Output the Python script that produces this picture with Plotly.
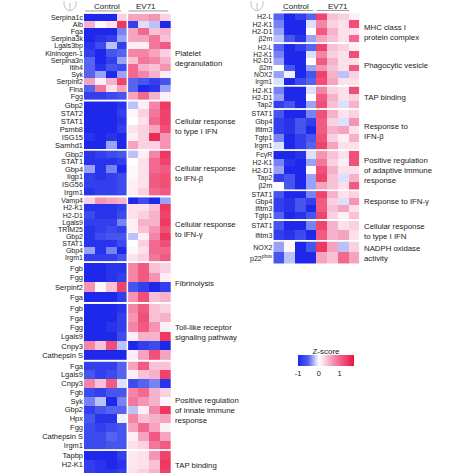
import plotly.graph_objects as go

W = H = 474

# ---------------- data: left panel ----------------
samples = ["C1", "C2", "C3", "C4", "E1", "E2", "E3", "E4"]

platelet_genes = ["Serpina1c", "Alb", "Fga", "Serpina3k", "Lgals3bp", "Kininogen-1",
                  "Serpina3n", "Itih4", "Syk", "Serpinf2", "Flna", "Fgg"]
platelet_z = [
    [-1.0, -1.0, -1.0, 0.3, 0.6, 0.6, 0.7, 0.3],
    [0.5, 0.05, 0.2, 1.4, -0.8, -0.1, -0.2, -1.1],
    [-1.0, -1.0, -1.0, -0.4, 0.6, 1.0, 0.4, 0.5],
    [-1.0, -0.9, -0.8, -0.3, 0.6, 0.6, 0.9, 0.4],
    [-0.9, -0.7, -0.2, -0.8, 0.1, 0.1, 0.9, 1.1],
    [-0.8, -1.0, -0.6, -0.5, 0.8, 0.8, 0.6, 0.3],
    [-0.5, -1.0, -0.8, -0.3, 0.4, 0.9, 0.8, 0.5],
    [-0.5, -0.9, -0.6, -0.7, 1.0, 0.5, 0.4, 0.7],
    [-0.5, -0.3, -1.1, -0.3, 1.0, 0.8, 0.5, 0.1],
    [0.6, 0.1, 0.5, 1.3, -0.5, -0.6, -0.8, -0.6],
    [-0.5, 0.9, 0.2, 0.6, -0.5, -1.0, -0.9, -0.3],
    [-0.8, -0.8, -0.7, -0.6, 0.6, 1.0, 0.5, 0.1],
]

typeI_genes = ["Gbp2", "STAT2", "STAT1", "Psmb8", "ISG15", "Samhd1"]
typeI_z = [
    [-1.0, -1.0, -1.0, -0.9, -0.2, 0.1, 0.8, 1.4],
    [-1.0, -1.0, -1.0, -0.8, 0.05, 0.3, 0.9, 1.3],
    [-1.0, -1.0, -1.0, -0.9, 0.0, 0.2, 1.0, 1.3],
    [-1.0, -1.0, -1.0, -0.8, 0.2, 0.3, 0.6, 1.2],
    [-0.9, -1.0, -0.9, -1.0, 0.1, 0.3, 1.5, 0.7],
    [-1.0, -1.0, -0.3, -1.0, 0.6, 0.3, 0.3, 0.7],
]

ifnb_genes = ["Gbp2", "STAT1", "Gbp4", "Iigp1", "ISG56", "Irgm1"]
ifnb_z = [
    [-0.9, -0.8, -0.7, -0.6, -0.2, 0.1, 0.8, 1.4],
    [-0.9, -0.9, -0.9, -0.8, 0.0, 0.2, 1.0, 1.3],
    [-0.3, -0.9, -0.4, -1.1, 0.05, 0.2, 1.0, 1.1],
    [-0.8, -0.9, -0.8, -0.7, 0.05, 0.2, 1.1, 1.2],
    [-0.8, -0.8, -0.8, -0.7, 0.1, 0.2, 1.1, 1.2],
    [-0.9, -0.8, -0.8, -0.7, 0.1, 0.3, 1.0, 1.1],
]

ifng_genes = ["Vamp4", "H2-K1", "H2-D1", "Lgals9", "TRIM25", "Gbp2", "STAT1", "Gbp4", "Irgm1"]
ifng_z = [
    [0.3, 0.7, 0.6, 0.5, -1.1, -0.7, -1.1, -0.3],
    [-0.9, -0.9, -0.9, -0.8, 0.2, 0.2, 0.4, 1.4],
    [-0.7, -0.9, -0.9, -0.7, 0.2, 0.3, 0.5, 1.3],
    [-0.8, -0.8, -0.8, -0.4, 0.1, 0.5, 0.5, 1.4],
    [-0.9, -0.8, -0.7, -0.8, 0.1, 0.4, 0.7, 1.2],
    [-0.9, -0.7, -0.6, -0.6, -0.2, 0.1, 0.8, 1.4],
    [-0.9, -0.9, -0.9, -0.7, 0.0, 0.3, 1.0, 1.2],
    [-0.3, -0.9, -0.4, -1.1, 0.05, 0.2, 1.0, 1.0],
    [-0.8, -0.8, -0.8, -0.6, 0.2, 0.3, 0.9, 1.1],
]

fibrin_genes = ["Fgb", "Fgg", "Serpinf2", "Fga"]
fibrin_z = [
    [-1.0, -1.0, -0.9, -0.9, 0.8, 1.1, 0.4, 0.3],
    [-1.0, -1.0, -0.9, -0.8, 0.8, 1.1, 0.7, 0.1],
    [0.7, 0.05, 0.4, 1.3, -0.6, -0.8, -1.1, -0.8],
    [-1.0, -1.0, -1.0, -0.8, 0.7, 1.2, 0.4, 0.5],
]

tlr_genes = ["Fgb", "Fga", "Fgg", "Lgals9", "Cnpy3", "Cathepsin S"]
tlr_z = [
    [-1.0, -1.0, -1.0, -0.9, 0.8, 1.1, 0.4, 0.3],
    [-1.0, -1.0, -1.0, -0.8, 0.7, 1.2, 0.4, 0.5],
    [-1.0, -1.0, -0.9, -0.8, 0.8, 1.1, 0.7, 0.1],
    [-1.0, -1.0, -1.0, -0.7, 0.1, 0.5, 0.5, 1.4],
    [0.8, 0.4, 1.2, -0.2, -1.1, -0.8, -0.7, -1.1],
    [-1.0, -1.0, -1.0, -1.0, 0.1, 0.6, 1.2, 0.6],
]

innate_genes = ["Fga", "Lgals9", "Cnpy3", "Fgb", "Syk", "Gbp2", "Hpx", "Fgg",
                "Cathepsin S", "Irgm1"]
innate_z = [
    [-0.8, -0.8, -0.8, -0.5, 0.6, 1.1, 0.4, 0.4],
    [-0.6, -0.8, -0.7, -0.5, 0.1, 0.4, 0.5, 1.3],
    [0.8, 0.4, 1.1, -0.1, -0.7, -0.5, -0.4, -0.9],
    [-0.7, -0.8, -0.6, -0.6, 0.8, 1.0, 0.5, 0.3],
    [-0.4, -0.2, -1.1, -0.4, 0.9, 0.7, 0.5, 0.05],
    [-0.8, -0.6, -0.5, -0.5, -0.2, 0.1, 0.8, 1.4],
    [-0.6, -0.9, -0.9, -0.05, 0.8, 0.4, 0.5, 0.6],
    [-0.7, -0.8, -0.7, -0.6, 0.6, 1.0, 0.6, 0.1],
    [-0.7, -0.7, -0.5, -0.6, 0.1, 0.6, 1.1, 0.6],
    [-0.7, -0.7, -0.6, -0.6, 0.2, 0.3, 0.9, 1.1],
]

tapL_genes = ["Tapbp", "H2-K1", "H2-D1"]
tapL_z = [
    [-1.0, -1.0, -1.0, -0.8, 0.15, 0.2, 0.7, 1.3],
    [-0.8, -0.9, -1.0, -0.9, 0.15, 0.2, 0.4, 1.4],
    [-0.8, -0.9, -0.9, -0.8, 0.2, 0.3, 0.5, 1.3],
]

left_titles = ["Platelet<br>degranulation", "Cellular response<br>to type I IFN",
               "Cellular response<br>to IFN-β", "Cellular response<br>to IFN-γ",
               "Fibrinolysis", "Toll-like receptor<br>signaling pathway",
               "Positive regulation<br>of innate immune<br>response", "TAP binding"]

# ---------------- data: right panel ----------------
mhc_genes = ["H2-L", "H2-K1", "H2-D1", "β2m"]
mhc_z = [
    [-0.5, -1.0, -0.8, -0.5, 1.3, 0.4, 0.3, 0.1],
    [-0.4, -1.0, -1.0, -0.1, 0.8, 0.3, 0.2, 1.2],
    [-0.3, -1.0, -1.0, 0.0, 1.1, 0.5, 0.2, 0.2],
    [-0.2, -0.6, -0.9, -0.3, 0.6, 0.4, 0.2, 1.0],
]

phago_genes = ["H2-L", "H2-K1", "H2-D1", "β2m", "NOX2", "Irgm1"]
phago_z = [
    [-0.5, -1.0, -0.8, -0.5, 1.3, 0.4, 0.3, 0.1],
    [-0.4, -1.0, -1.0, -0.1, 0.8, 0.3, 0.2, 1.2],
    [-0.3, -1.0, -1.0, 0.0, 1.1, 0.5, 0.2, 0.2],
    [0.0, -0.6, -1.0, -0.3, 0.7, 0.4, 0.2, 1.1],
    [-0.3, -0.05, -1.0, -0.6, 1.3, 0.5, -0.2, 0.3],
    [-0.1, -1.0, -0.7, -0.5, 1.2, 0.6, 0.2, 0.2],
]

tapR_genes = ["H2-K1", "H2-D1", "Tap2"]
tapR_z = [
    [-0.4, -1.0, -1.0, -0.1, 0.8, 0.3, 0.2, 1.2],
    [-0.3, -1.0, -1.0, 0.0, 1.1, 0.5, 0.2, 0.3],
    [-0.8, -0.6, -1.0, -0.3, 1.2, 0.4, -0.1, 0.5],
]

rifnb_genes = ["STAT1", "Gbp4", "Ifitm3", "Tgtp1", "Irgm1"]
rifnb_z = [
    [-0.6, -1.0, -1.0, -0.4, 1.2, 0.5, 0.2, 0.3],
    [-0.8, -0.9, -0.6, -0.8, 1.1, 0.3, -0.1, 0.7],
    [-0.8, -0.9, -0.6, -1.0, 1.1, 0.5, 0.6, 0.2],
    [-0.4, -1.0, -0.8, -0.6, 1.2, 0.3, 0.1, 0.5],
    [-0.1, -1.0, -0.8, -0.5, 1.3, 0.6, 0.2, 0.2],
]

adapt_genes = ["FcγR", "H2-K1", "H2-D1", "Tap2", "β2m"]
adapt_z = [
    [-1.0, -1.0, -0.9, -0.1, 0.7, 0.4, 0.2, 1.2],
    [-0.4, -0.9, -1.0, -0.3, 0.9, 0.3, 0.1, 1.2],
    [-0.3, -1.0, -1.0, 0.0, 1.2, 0.5, 0.2, 0.2],
    [-0.8, -0.6, -1.0, -0.3, 1.3, 0.4, -0.1, 0.5],
    [0.0, -0.6, -1.0, -0.3, 0.6, 0.4, 0.2, 1.1],
]

rifng_genes = ["STAT1", "Gbp4", "Ifitm3", "Tgtp1"]
rifng_z = [
    [-0.6, -1.0, -1.0, -0.4, 1.3, 0.5, 0.2, 0.3],
    [-0.8, -0.9, -0.6, -0.8, 1.1, 0.3, -0.1, 0.7],
    [-0.8, -0.9, -0.6, -1.0, 1.1, 0.4, 0.6, 0.2],
    [-0.5, -1.0, -0.9, -0.6, 1.3, 0.3, 0.1, 0.4],
]

rtypeI_genes = ["STAT1", "Ifitm3"]
rtypeI_z = [
    [-0.6, -1.0, -1.0, -0.4, 1.3, 0.5, 0.2, 0.3],
    [-0.8, -0.9, -0.7, -1.0, 1.1, 0.5, 0.6, 0.2],
]

nadph_genes = ["NOX2", "p22<sup>phox</sup>"]
nadph_z = [
    [-0.3, 0.05, -1.0, -0.6, 1.4, 0.6, -0.2, 0.3],
    [-0.6, -0.2, -1.0, -1.0, 0.6, 0.4, 1.0, 0.6],
]

right_titles = ["MHC class I<br>protein complex", "Phagocytic vesicle", "TAP binding",
                "Response to<br>IFN-β", "Positive regulation<br>of adaptive immune<br>response",
                "Response to IFN-γ", "Cellular response<br>to type I IFN",
                "NADPH oxidase<br>activity"]

group_names = ["Control", "EV71"]
cbar_ticks = [-1, 0, 1]

# ---------------- layout geometry (pixels) ----------------
left_blocks = [(platelet_genes, platelet_z), (typeI_genes, typeI_z), (ifnb_genes, ifnb_z),
               (ifng_genes, ifng_z), (fibrin_genes, fibrin_z), (tlr_genes, tlr_z),
               (innate_genes, innate_z), (tapL_genes, tapL_z)]
left_px = [(12.7, 99.3), (100.8, 148.6), (150.1, 195.6), (197.1, 261.6),
           (263.1, 302.6), (304.1, 360.6), (362.1, 450.2), (451.7, 478.7)]
left_label_y = [57.5, 126, 173.5, 229.5, 283.5, 332.5, 411.5, 466]

right_blocks = [(mhc_genes, mhc_z), (phago_genes, phago_z), (tapR_genes, tapR_z),
                (rifnb_genes, rifnb_z), (adapt_genes, adapt_z), (rifng_genes, rifng_z),
                (rtypeI_genes, rtypeI_z), (nadph_genes, nadph_z)]
right_px = [(12.3, 41.7), (43.2, 84.3), (85.8, 107.7), (109.2, 149.0),
            (150.5, 189.4), (190.9, 219.4), (220.9, 240.0), (241.5, 264.0)]
right_label_y = [31.5, 64.5, 97, 131, 170.5, 201.5, 231, 254]

LX0, LX1 = 84.0, 170.7
RX0, RX1 = 273.3, 359.3

def px_x(p):
    return p / W

def px_y(p):
    return 1 - p / H

FONT = "Liberation Sans, Arial, sans-serif"
TXT = "#1a1a1a"

fig = go.Figure()
layout = dict(
    width=W, height=H, margin=dict(l=0, r=0, t=0, b=0),
    paper_bgcolor="white", plot_bgcolor="white", showlegend=False,
    font=dict(family=FONT, size=7.5, color=TXT),
    xaxis=dict(domain=[px_x(LX0), px_x(LX1)], range=[-0.5, 7.5], visible=False,
               anchor="y", fixedrange=True),
    xaxis2=dict(domain=[px_x(RX0), px_x(RX1)], range=[-0.5, 7.5], visible=False,
                anchor="y9", fixedrange=True),
    coloraxis=dict(
        cmin=-1.0, cmax=1.7,
        colorscale=[[0.0, "rgb(30,40,235)"], [0.18, "rgb(80,95,240)"],
                    [0.37, "rgb(255,255,255)"], [0.55, "rgb(247,180,205)"],
                    [0.75, "rgb(242,100,140)"], [1.0, "rgb(235,20,60)"]],
        colorbar=dict(orientation="h", x=px_x(326), xanchor="center",
                      y=px_y(344), yanchor="top", len=56, lenmode="pixels",
                      xpad=0, ypad=2,
                      thickness=11, outlinewidth=0, tickvals=cbar_ticks,
                      ticktext=[str(t) for t in cbar_ticks], ticks="",
                      tickfont=dict(size=7.5, color=TXT),
                      title=dict(text="Z-score", side="top",
                                 font=dict(size=8, color=TXT))),
    ),
)

annotations = []
shapes = []

def add_panel(blocks, pxs, label_ys, titles, xref, first_idx, lab_x, max_font):
    for k, ((genes, z), (top, bot), ly, title) in enumerate(zip(blocks, pxs, label_ys, titles)):
        idx = first_idx + k
        yname = "y" if idx == 1 else f"y{idx}"
        lname = "yaxis" if idx == 1 else f"yaxis{idx}"
        n = len(genes)
        row_h = (bot - top) / n
        vis_bot = min(bot, H)
        lo = -0.5 + (vis_bot - top) / row_h
        fsize = min(max_font, round(row_h * 0.98, 1))
        fig.add_trace(go.Heatmap(z=z, x=list(range(8)), y=list(range(n)),
                                 xaxis=xref, yaxis=yname, coloraxis="coloraxis",
                                 hoverinfo="skip"))
        layout[lname] = dict(domain=[max(0, px_y(vis_bot)), px_y(top)],
                             range=[lo, -0.5], anchor=xref, tickmode="array",
                             tickvals=list(range(n)), ticktext=genes, ticks="",
                             showgrid=False, zeroline=False, showline=False,
                             tickfont=dict(size=fsize, color=TXT), fixedrange=True)
        annotations.append(dict(x=px_x(lab_x), y=px_y(ly), xref="paper", yref="paper",
                                text=title, showarrow=False, xanchor="left",
                                yanchor="middle", align="left",
                                font=dict(size=7.8, color=TXT)))

add_panel(left_blocks, left_px, left_label_y, left_titles, "x", 1, 173, 7.5)
add_panel(right_blocks, right_px, right_label_y, right_titles, "x2", 9, 361.5, 7.0)

# white separator between Control and EV71 columns (left panel)
shapes.append(dict(type="line", xref="x", yref="paper", x0=3.5, x1=3.5,
                   y0=0, y1=px_y(12.7), line=dict(color="white", width=1.5)))

# headers
for (cx, ux0, ux1), name in zip([(106.7, 85, 121), (146, 128.5, 168.3)], group_names):
    annotations.append(dict(x=px_x(cx), y=px_y(5.5), xref="paper", yref="paper",
                            text=name, showarrow=False, xanchor="center",
                            yanchor="middle", font=dict(size=8, color=TXT)))
    shapes.append(dict(type="line", xref="paper", yref="paper", x0=px_x(ux0),
                       x1=px_x(ux1), y0=px_y(10), y1=px_y(10),
                       line=dict(color="#9a9a9a", width=1)))
for (cx, ux0, ux1), name in zip([(295.5, 281.7, 313), (338.3, 316.7, 349.3)], group_names):
    annotations.append(dict(x=px_x(cx), y=px_y(5.5), xref="paper", yref="paper",
                            text=name, showarrow=False, xanchor="center",
                            yanchor="middle", font=dict(size=8, color=TXT)))
    shapes.append(dict(type="line", xref="paper", yref="paper", x0=px_x(ux0),
                       x1=px_x(ux1), y0=px_y(9.5), y1=px_y(9.5),
                       line=dict(color="#9a9a9a", width=1)))

# small mouse-head icons
for cx in (70, 257):
    shapes.append(dict(type="path", xref="paper", yref="paper",
                       path=(f"M {px_x(cx-6)},{px_y(0)} Q {px_x(cx-7)},{px_y(8)} {px_x(cx)},{px_y(10)} "
                             f"Q {px_x(cx+7)},{px_y(8)} {px_x(cx+6)},{px_y(0)}"),
                       line=dict(color="#b0b0b0", width=0.8)))
    shapes.append(dict(type="line", xref="paper", yref="paper", x0=px_x(cx), x1=px_x(cx),
                       y0=px_y(2), y1=px_y(9), line=dict(color="#b0b0b0", width=0.8)))

layout["annotations"] = annotations
layout["shapes"] = shapes
fig.update_layout(**layout)
fig.write_html("out.html")
